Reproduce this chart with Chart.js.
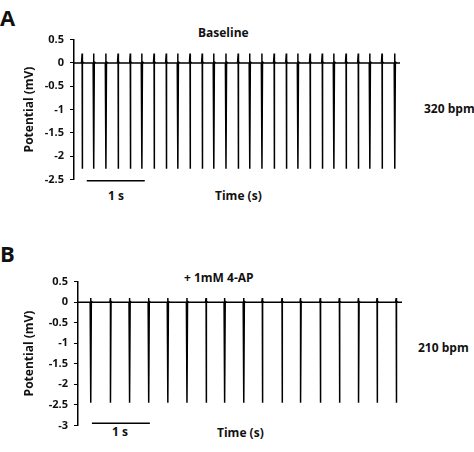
<!DOCTYPE html>
<html><head><meta charset="utf-8">
<script src="https://cdn.jsdelivr.net/npm/chart.js@4"></script>
<style>
body{margin:0;width:474px;height:452px;background:#fff;position:relative;font-family:"Open Sans",sans-serif;font-weight:bold;overflow:hidden}
.t{position:absolute;font-size:12px;color:#111;white-space:nowrap}
.big{font-size:22px}
canvas{position:absolute}
</style></head><body>
<div class="t big" style="left:0;top:2px">A</div>
<div class="t big" style="left:0;top:238px">B</div>
<div class="t" style="left:198px;top:24px">Baseline</div>
<div class="t" style="left:184px;top:269px">+ 1mM 4-AP</div>
<div class="t" style="left:424px;top:100px">320 bpm</div>
<div class="t" style="left:418px;top:339px">210 bpm</div>
<div class="t" style="left:108px;top:187px">1 s</div>
<div class="t" style="left:215px;top:187px">Time (s)</div>
<div class="t" style="left:112px;top:423px">1 s</div>
<div class="t" style="left:217px;top:424px">Time (s)</div>
<div style="position:absolute;left:0;top:27px;width:410px;height:165px"><canvas id="cA"></canvas></div>
<div style="position:absolute;left:0;top:269px;width:412px;height:169px"><canvas id="cB"></canvas></div>
<script>
// spike times (s)
const spikesA = [0.14,0.34,0.55,0.76,0.97,1.17,1.38,1.59,1.79,2.00,2.21,2.41,2.62,2.83,3.03,3.24,3.45,3.66,3.86,4.07,4.28,4.48,4.69,4.90,5.10,5.31,5.53];
const spikesB = [0.22,0.56,0.89,1.22,1.55,1.88,2.21,2.53,2.86,3.18,3.52,3.84,4.18,4.51,4.84,5.16,5.49];
const peakA = 0.2, troughA = -2.27;
const peakB = 0.1, troughB = -2.45;
const endA = 5.62, endB = 5.59;
const yTicksA = [0.5,0,-0.5,-1,-1.5,-2,-2.5];
const yTicksB = [0.5,0,-0.5,-1,-1.5,-2,-2.5,-3];
const barA = [0.22,1.22], barB = [0.24,1.24];
const barYA = -2.53, barYB = -2.95;

function trace(spikes, peak, trough, end){
  let pts = [{x:0,y:0}];
  spikes.forEach(t => {
    pts.push({x:t-0.01,y:0},{x:t,y:peak},{x:t,y:trough},{x:t+0.01,y:0.02},{x:t+0.03,y:0});
  });
  pts.push({x:end,y:0});
  return pts;
}

function makeChart(id, spikes, peak, trough, end, ticks, bar, barY, axisW){
  const ctx = document.getElementById(id).getContext('2d');
  const yMin = ticks[ticks.length-1];
  new Chart(ctx, {
    type:'line',
    data:{datasets:[
      {data:trace(spikes,peak,trough,end),borderColor:'#000',borderWidth:1.5,pointRadius:0,tension:0},
      {data:[{x:bar[0],y:barY},{x:bar[1],y:barY}],borderColor:'#000',borderWidth:1.5,pointRadius:0,clip:false}
    ]},
    options:{
      animation:false,responsive:true,maintainAspectRatio:false,
      layout:{padding:{top:10,bottom:10,right:10,left:22}},
      plugins:{legend:{display:false},tooltip:{enabled:false}},
      scales:{
        x:{type:'linear',min:0,max:end,display:false},
        y:{min:yMin,max:0.5,
          afterFit:s=>{s.width=axisW;},
          afterBuildTicks:s=>{s.ticks=ticks.map(v=>({value:v}));},
          border:{color:'#000',width:1.5},
          grid:{drawOnChartArea:false,color:'#000',tickLength:4},
          ticks:{color:'#111',font:{family:'Open Sans',weight:'bold',size:11},padding:6,callback:v=>String(v)},
          title:{display:true,text:'Potential (mV)',color:'#111',font:{family:'Open Sans',weight:'bold',size:12},padding:0}
        }
      }
    }
  });
}
makeChart('cA',spikesA,peakA,troughA,endA,yTicksA,barA,barYA,52);
makeChart('cB',spikesB,peakB,troughB,endB,yTicksB,barB,barYB,56);
</script>
</body></html>
